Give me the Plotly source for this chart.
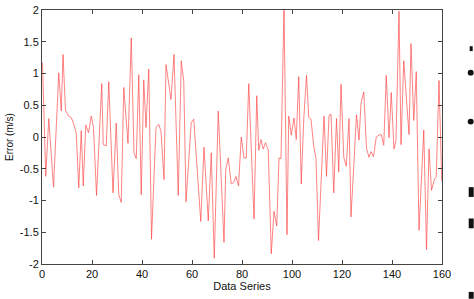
import plotly.graph_objects as go

# Vertex positions (data index) and error values
series_x = [0.2, 1.5, 2.7, 4.6, 6.7, 7.7, 8.4, 9.4, 10.6, 11.8, 12.8, 13.7, 14.7, 15.7, 16.5,
            17.5, 18.6, 19.7, 20.6, 21.8, 23.9, 24.5, 25.7, 26.7, 28.4, 29.7, 30.7, 31.7,
            32.7, 34.4, 35.7, 36.8, 37.7, 38.7, 39.7, 40.7, 41.6, 42.7, 43.8, 45.6, 46.7,
            47.6, 48.8, 49.6, 51.6, 52.8, 54.5, 55.7, 56.7, 57.6, 59.7, 60.7, 63.5, 64.8,
            66.5, 67.7, 68.9, 70.5, 72.8, 73.5, 74.5, 75.7, 76.6, 77.6, 78.6, 79.7, 80.8,
            81.7, 82.7, 84.8, 85.9, 86.7, 87.6, 88.5, 89.4, 90.5, 91.7, 92.8, 93.9, 94.8,
            95.6, 96.8, 98.0, 98.7, 99.7, 100.8, 101.7, 102.7, 103.7, 104.7, 105.8, 106.7,
            107.6, 108.7, 109.6, 110.6, 112.8, 113.8, 114.8, 115.6, 116.7, 117.8, 118.7,
            119.6, 120.7, 121.7, 122.8, 123.6, 125.8, 126.8, 127.6, 128.7, 129.8, 130.8,
            131.6, 132.6, 133.7, 134.8, 135.7, 136.7, 137.7, 138.8, 139.7, 140.8, 141.6,
            142.8, 143.6, 144.7, 146.8, 147.6, 148.7, 149.7, 150.8, 152.7, 153.8, 154.8,
            155.8, 157.0, 157.7, 158.8, 159.9]
series_err = [1.17, -0.62, 0.29, -0.79, 1.01, 0.41, 1.30, 0.42, 0.33, 0.30, 0.19, 0.06, -0.80, 0.10, -0.77,
              0.19, 0.07, 0.33, 0.15, -0.92, 0.84, -0.12, -0.14, 0.87, -0.88, 0.22, -0.91, -1.03,
              0.78, -0.10, 1.56, -0.25, -0.34, 0.98, -0.91, 0.90, 0.15, 1.07, -1.61, 0.15, 0.20,
              0.09, -0.67, 1.14, 0.59, 1.30, -0.92, 1.20, 0.88, -1.02, 0.23, 0.28, -1.33, -0.16,
              -1.32, -0.25, -1.91, 0.41, -1.66, -0.51, -0.33, -0.74, -0.72, -0.62, -0.77, 0.00, -0.33,
              -0.33, 0.84, -1.29, 0.65, -0.21, -0.04, -0.19, -0.09, -0.20, -1.84, -1.17, -1.40, -0.33,
              -0.34, 2.05, -1.54, 0.33, 0.03, 0.30, -0.04, 0.95, -0.74, 0.28, 0.97, 0.31,
              0.28, -0.15, -0.34, -1.63, 0.33, -0.62, 0.34, 0.36, -0.88, 0.29, -0.55,
              0.83, -0.32, -0.46, 0.29, -1.26, 0.35, -0.05, 0.53, 0.71, -0.18, -0.32,
              -0.23, -0.31, 0.00, 0.03, 0.04, -0.13, 0.97, -0.01, 0.70, -0.19, -0.05,
              1.98, -0.12, 1.20, 0.04, 1.47, 0.26, 1.03, -1.47, 0.11, -1.77, -0.19,
              -0.84, -0.66, -0.63, 0.89, -0.70]

x_ticks = [0, 20, 40, 60, 80, 100, 120, 140, 160]
y_ticks = [-2, -1.5, -1, -0.5, 0, 0.5, 1, 1.5, 2]
y_tick_text = ["-2", "-1.5", "-1", "-0.5", "0", "0.5", "1", "1.5", "2"]

fig = go.Figure()
fig.add_trace(go.Scatter(x=series_x, y=series_err, mode="lines",
                         line=dict(color="rgba(255,60,60,0.8)", width=0.8), showlegend=False))

axis_common = dict(showgrid=False, zeroline=False, showline=True, linecolor="#444444",
                   linewidth=1, mirror="ticks", ticks="inside", ticklen=4,
                   ticklabeloverflow="allow",
                   tickcolor="#444444", tickfont=dict(family="Liberation Sans, Arial", size=11, color="#111111"))

fig.update_xaxes(range=[0, 160], tickvals=x_ticks, **axis_common,
                 title=dict(text="Data Series", font=dict(family="Liberation Sans, Arial", size=11, color="#111111"),
                            standoff=3))
fig.update_yaxes(range=[-2, 2], tickvals=y_ticks, ticktext=y_tick_text, **axis_common,
                 title=dict(text="Error (m/s)", font=dict(family="Liberation Sans, Arial", size=10, color="#111111"),
                            standoff=4))

# cropped glyph fragments at the right edge of the picture (pixel -> paper)
def px(xp):
    return (xp - 42.3) / 400.0

def py(yp):
    return (263.5 - yp) / 259.5

frags = [("rect", 470, 41, 473, 46), ("circle", 468, 65, 474, 71), ("circle", 468, 115, 474, 121),
         ("rect", 469, 185, 474, 195), ("rect", 469, 217, 474, 227), ("rect", 469, 292, 474, 299)]
shapes = []
for kind, x0, y0, x1, y1 in frags:
    shapes.append(dict(type=kind, xref="paper", yref="paper", x0=px(x0), x1=px(x1),
                       y0=py(y1), y1=py(y0), fillcolor="#111111", line=dict(width=0)))

fig.update_layout(width=474, height=299, margin=dict(l=42, r=32, t=4, b=35),
                  plot_bgcolor="white", paper_bgcolor="white", shapes=shapes)

fig.write_html("out.html")
